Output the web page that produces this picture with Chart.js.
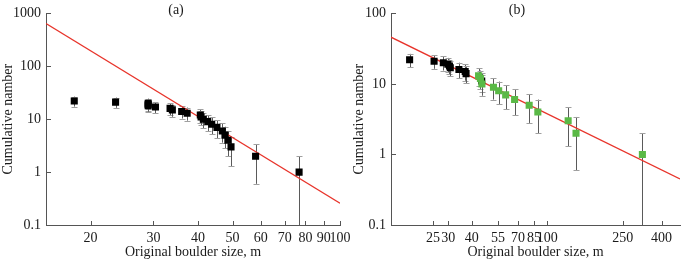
<!DOCTYPE html>
<html><head><meta charset="utf-8">
<script src="https://cdn.jsdelivr.net/npm/chart.js@4/dist/chart.umd.min.js"></script>
<style>
html,body{margin:0;padding:0;background:#fff;}
#wrap{position:relative;width:685px;height:262px;overflow:hidden;background:#fff;}
#ca{position:absolute;left:0;top:0;}
#cb{position:absolute;left:342px;top:0;}
</style></head><body>
<div id="wrap">
<canvas id="ca" width="362" height="262"></canvas>
<canvas id="cb" width="343" height="262"></canvas>
</div>
<script>
// ---------- Panel (a) data ----------
const aSizes  = [18.0, 23.5, 29.0, 29.0, 29.0, 30.4, 33.4, 33.9, 36.0, 37.3, 40.6, 40.8, 41.4, 42.6, 43.7, 45.2, 46.8, 47.6, 48.5, 49.5, 58.0, 76.8];
const aCounts = [22, 21, 20, 19, 18, 17, 16, 15, 14, 13, 12, 11, 10, 9, 8, 7, 6, 5, 4, 3, 2, 1];
const aErrors = [4.7, 4.6, 4.5, 4.4, 4.2, 4.1, 4.0, 3.9, 3.7, 3.6, 3.5, 3.3, 3.2, 3.0, 2.8, 2.6, 2.4, 2.2, 2.0, 1.7, 1.4, 1.0];
const aFitX = [15, 100];
const aFitY = [644, 0.257];
const aXTicks = [20, 30, 40, 50, 60, 70, 80, 90, 100];
const aYTicks = [0.1, 1, 10, 100, 1000];

// ---------- Panel (b) data ----------
const bBlackSizes  = [18.8, 25.3, 28.3, 29.9, 30.5, 30.8, 34.2, 36.9, 37.3, 45.1];
const bBlackCounts = [22, 21, 20, 19, 18, 17, 16, 15, 14, 11];
const bBlackErrors = [4.7, 4.6, 4.5, 4.4, 4.2, 4.1, 4.0, 3.9, 3.7, 3.3];
const bGreenSizes  = [43.4, 44.4, 45.2, 52.0, 55.4, 60.3, 67.2, 80.2, 89.1, 128.7, 141.6, 316.8];
const bGreenCounts = [13, 12, 10, 9, 8, 7, 6, 5, 4, 3, 2, 1];
const bGreenErrors = [3.6, 3.5, 3.2, 3.0, 2.8, 2.6, 2.4, 2.2, 2.0, 1.7, 1.4, 1.0];
const bFitX = [15, 500];
const bFitY = [46, 0.45];
const bXTicks = [25, 30, 40, 55, 70, 85, 100, 250, 400];
const bYTicks = [0.1, 1, 10, 100];

const FONT = "'Liberation Serif','DejaVu Serif',serif";
const AXIS_COLOR = '#555';
const TEXT_COLOR = '#1a1a1a';
const RED = '#e8342b';
const GREEN = '#5ab946';

function pts(xs, ys){ return xs.map((x,i)=>({x:x, y:ys[i]})); }

const errorBars = {
  id: 'errorBars',
  beforeDatasetsDraw(chart, args, opts){
    const ctx = chart.ctx, xs = chart.scales.x, ys = chart.scales.y, a = chart.chartArea;
    ctx.save();
    ctx.beginPath(); ctx.rect(a.left, a.top, a.right-a.left, a.bottom-a.top); ctx.clip();
    (opts.sets||[]).forEach(s=>{
      s.xs.forEach((xv,i)=>{
        const px = Math.round(xs.getPixelForValue(xv)) + 0.5;
        const hi = s.ys[i] + s.errs[i];
        const lo = Math.max(s.ys[i] - s.errs[i], ys.min*0.5);
        const pTop = ys.getPixelForValue(hi);
        const pBot = lo <= ys.min ? a.bottom + 2 : ys.getPixelForValue(lo);
        ctx.strokeStyle = '#5a5a5a'; ctx.lineWidth = 1;
        ctx.beginPath(); ctx.moveTo(px, pTop); ctx.lineTo(px, pBot); ctx.stroke();
        ctx.strokeStyle = '#a0a0a0';
        ctx.beginPath(); ctx.moveTo(px-3, Math.round(pTop)+0.5); ctx.lineTo(px+3, Math.round(pTop)+0.5);
        if (lo > ys.min) { ctx.moveTo(px-3, Math.round(pBot)+0.5); ctx.lineTo(px+3, Math.round(pBot)+0.5); }
        ctx.stroke();
      });
    });
    ctx.restore();
  }
};

const innerTicks = {
  id: 'innerTicks',
  afterDraw(chart, args, opts){
    const ctx = chart.ctx, a = chart.chartArea;
    ctx.save();
    ctx.strokeStyle = AXIS_COLOR; ctx.lineWidth = 1;
    ctx.beginPath();
    chart.scales.x.ticks.forEach(t=>{
      const px = Math.round(chart.scales.x.getPixelForValue(t.value)) + 0.5;
      ctx.moveTo(px, a.bottom); ctx.lineTo(px, a.bottom - 4);
    });
    chart.scales.y.ticks.forEach(t=>{
      const py = Math.round(chart.scales.y.getPixelForValue(t.value)) + 0.5;
      ctx.moveTo(a.left, py); ctx.lineTo(a.left + 5, py);
    });
    ctx.stroke();
    if (opts.label) {
      ctx.fillStyle = TEXT_COLOR;
      ctx.font = '14px ' + FONT;
      ctx.textAlign = 'center'; ctx.textBaseline = 'middle';
      ctx.fillText(opts.label, opts.lx, opts.ly);
    }
    ctx.restore();
  }
};

function makeOptions(cfg){
  return {
    responsive: false,
    animation: false,
    layout: { padding: { left: 0, right: cfg.padRight, top: 7, bottom: 0 } },
    plugins: {
      legend: { display: false },
      tooltip: { enabled: false },
      errorBars: { sets: cfg.errSets },
      innerTicks: { label: cfg.label, lx: cfg.lx, ly: 10 }
    },
    scales: {
      x: {
        type: 'logarithmic', min: cfg.xMin, max: cfg.xMax,
        grid: { display: true, drawOnChartArea: false, drawTicks: false },
        border: { display: true, color: AXIS_COLOR, width: 1 },
        afterBuildTicks: s => { s.ticks = cfg.xTicks.map(v=>({value:v})); },
        afterFit: s => { s.height = 37; },
        ticks: { autoSkip: false, maxRotation: 0, padding: 5, color: TEXT_COLOR,
                 font: { family: FONT, size: 14 }, callback: v => String(v) },
        title: { display: true, text: 'Original boulder size, m', color: TEXT_COLOR,
                 font: { family: FONT, size: 14 }, padding: { top: 0, bottom: 1 } }
      },
      y: {
        type: 'logarithmic', min: cfg.yMin, max: cfg.yMax,
        grid: { display: true, drawOnChartArea: false, drawTicks: false },
        border: { display: true, color: AXIS_COLOR, width: 1 },
        afterBuildTicks: s => { s.ticks = cfg.yTicks.map(v=>({value:v})); },
        afterFit: s => { s.width = cfg.yWidth; },
        ticks: { autoSkip: false, padding: 5, color: TEXT_COLOR,
                 font: { family: FONT, size: 14 }, callback: v => String(v) },
        title: { display: true, text: 'Cumulative namber', color: TEXT_COLOR,
                 font: { family: FONT, size: 14 }, padding: { top: cfg.yTitlePad, bottom: 0 } }
      }
    }
  };
}

function lineDs(xs, ys){
  return { type: 'scatter', data: pts(xs, ys), showLine: true, borderColor: RED, borderWidth: 1.3,
           pointRadius: 0, fill: false, order: 5 };
}
function pointDs(xs, ys, color){
  return { type: 'scatter', data: pts(xs, ys), showLine: false, pointStyle: 'rect', pointRadius: 5,
           backgroundColor: color, borderWidth: 0, order: 1 };
}

new Chart(document.getElementById('ca'), {
  type: 'scatter',
  data: { datasets: [ pointDs(aSizes, aCounts, '#000'), lineDs(aFitX, aFitY) ] },
  options: makeOptions({ padRight: 22, xMin: 15, xMax: 100, yMin: 0.1, yMax: 1000,
    xTicks: aXTicks, yTicks: aYTicks, yWidth: 46, yTitlePad: 0, label: '(a)', lx: 176,
    errSets: [{ xs: aSizes, ys: aCounts, errs: aErrors }] }),
  plugins: [errorBars, innerTicks]
});

new Chart(document.getElementById('cb'), {
  type: 'scatter',
  data: { datasets: [ pointDs(bGreenSizes, bGreenCounts, GREEN), pointDs(bBlackSizes, bBlackCounts, '#000'), lineDs(bFitX, bFitY) ] },
  options: makeOptions({ padRight: 0, xMin: 15, xMax: 500, yMin: 0.1, yMax: 100,
    xTicks: bXTicks, yTicks: bYTicks, yWidth: 49, yTitlePad: 9, label: '(b)', lx: 175,
    errSets: [{ xs: bBlackSizes, ys: bBlackCounts, errs: bBlackErrors },
              { xs: bGreenSizes, ys: bGreenCounts, errs: bGreenErrors }] }),
  plugins: [errorBars, innerTicks]
});
</script>
</body></html>
